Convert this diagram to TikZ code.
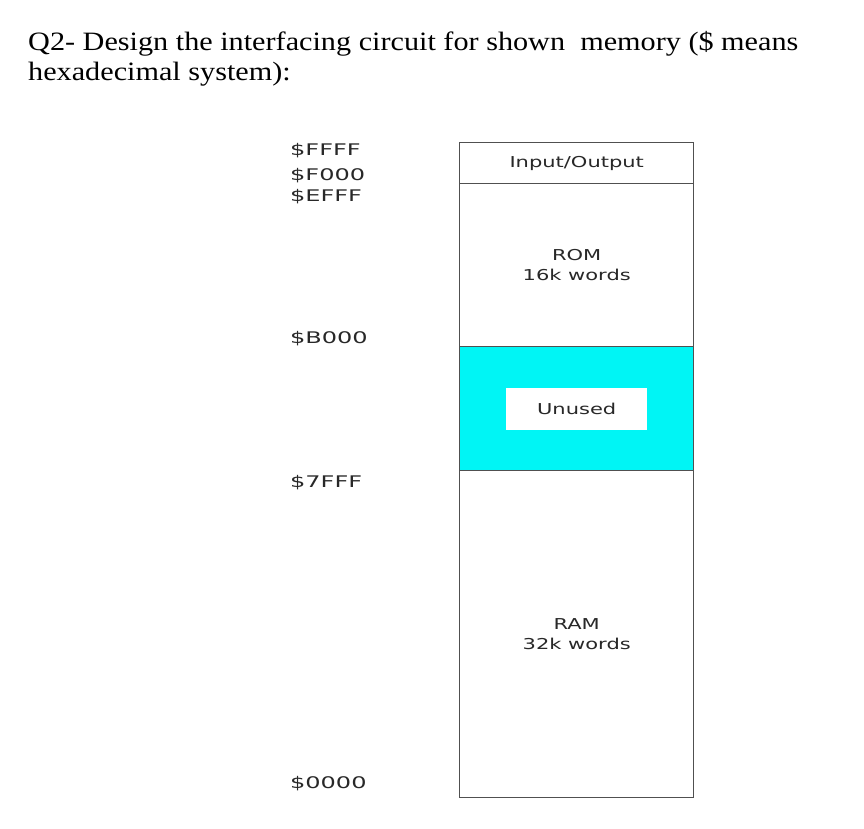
\documentclass[tikz,border=0pt]{standalone}
\usepackage{graphicx}
\usepackage{fontspec}
\setmainfont{Liberation Serif}
\newfontfamily\lblfont{DejaVu Sans}
\newcommand\wide[1]{\scalebox{1.4}[1]{#1}}
\newcommand\widelbl[1]{\scalebox{1.5}[1]{#1}}
\newcommand\widetitle[1]{\scalebox{1.14}[1]{#1}}
\definecolor{memcyan}{RGB}{0,245,245}
\definecolor{edge}{RGB}{80,80,80}
\definecolor{txt}{RGB}{40,40,40}
\begin{document}
\begin{tikzpicture}[x=1pt,y=-1pt,
  title/.style={font=\fontsize{26.5}{28}\selectfont, inner sep=0pt, anchor=base west},
  region/.style={draw=edge, line width=1.4pt, anchor=north west, inner sep=0pt,
    align=center, text=txt, font=\lblfont\fontsize{15}{20}\selectfont},
  addr/.style={anchor=west, inner sep=0pt, text=txt, font=\lblfont\fontsize{16}{18}\selectfont},
  tag/.style={fill=white, draw=none, minimum width=141pt, minimum height=42pt,
    inner sep=0pt, text=txt, font=\lblfont\fontsize{15}{20}\selectfont}]
\useasboundingbox (0,0) rectangle (864,829);
\fill[white] (0,0) rectangle (864,829);
\node[title] (t1) at (28,51) {\widetitle{Q2- Design the interfacing circuit for shown\ \ memory (\$ means}};
\node[title] (t2) at (28,81) {\widetitle{hexadecimal system):}};
% memory regions
\node[region, minimum width=234pt, minimum height=41pt] (io) at (459,142) {\wide{Input/Output}};
\node[region, minimum width=234pt, minimum height=163pt] (rom) at (459,183) {\wide{ROM}\\\wide{16k words}};
\node[region, fill=memcyan, minimum width=234pt, minimum height=124pt] (unused) at (459,346) {};
\node[tag] (untag) at (unused.center) {\wide{Unused}};
\node[region, minimum width=234pt, minimum height=327pt] (ram) at (459,470) {\wide{RAM}\\\wide{32k words}};
% addresses
\node[addr] (aFFFF) at (290,150.5) {\widelbl{\$FFFF}};
\node[addr] (aF000) at (290,176) {\widelbl{\$F000}};
\node[addr] (aEFFF) at (290,197) {\widelbl{\$EFFF}};
\node[addr] (aB000) at (290,339) {\widelbl{\$B000}};
\node[addr] (a7FFF) at (290,482.5) {\widelbl{\$7FFF}};
\node[addr] (a0000) at (290,784) {\widelbl{\$0000}};
\end{tikzpicture}
\end{document}
